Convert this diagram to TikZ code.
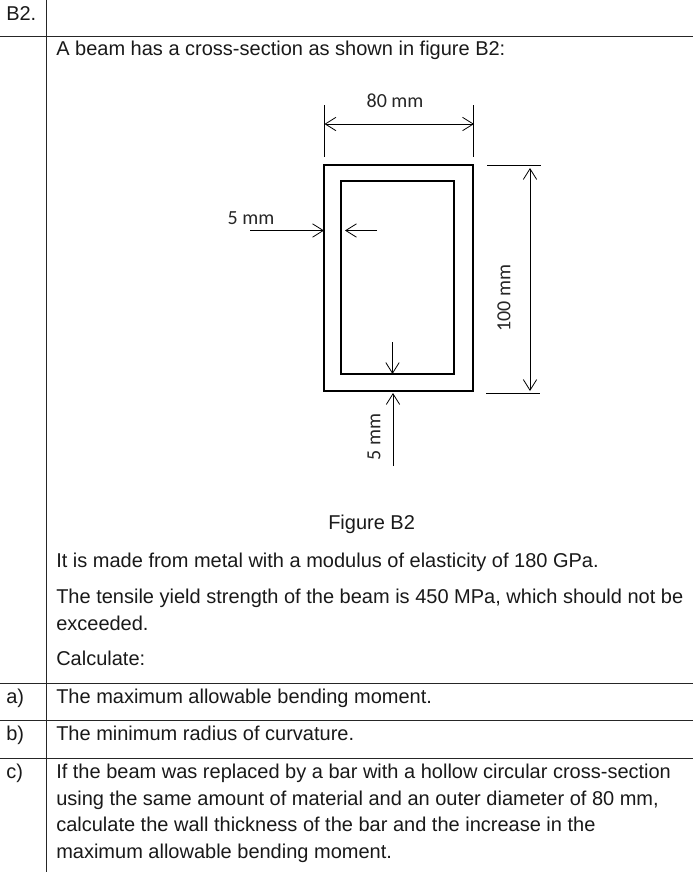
\documentclass[tikz,border=0pt]{standalone}
\usepackage{fontspec}
\setmainfont{Liberation Sans}
\newfontfamily\labelfont{Carlito}
\usetikzlibrary{arrows.meta}
\tikzset{
  rule/.style={line width=.6pt,color=black!85},
  body/.style={anchor=base west,inner sep=0pt,font=\fontsize{15}{18}\selectfont,color=black!90},
  dimlabel/.style={inner sep=0pt,font=\labelfont\fontsize{15}{18}\selectfont,color=black!85},
  dimline/.style={line width=.6pt},
  dimarrow/.style={line width=.6pt,-{Straight Barb[length=8pt,width=10pt,line width=.6pt]}},
  wall/.style={line width=1.3pt}
}
\begin{document}
\begin{tikzpicture}[x=.75pt,y=-.75pt]
   \useasboundingbox (0,0) rectangle (693,872);

   \draw[rule] (0,36.5) -- (693,36.5);
   \draw[rule] (0,683.5) -- (693,683.5);
   \draw[rule] (0,720.5) -- (693,720.5);
   \draw[rule] (0,758.5) -- (693,758.5);
   \draw[rule] (46.5,0) -- (46.5,872);

   \node[body] (qno) at (6,20) {B2.};
   \node[body] (intro) at (56,55) {A beam has a cross-section as shown in figure B2:};
   \node[body] (caption) at (328,529) {Figure B2};
   \node[body] (modulus) at (56,567) {It is made from metal with a modulus of elasticity of 180 GPa.};
   \node[body] (yield) at (56,603) {The tensile yield strength of the beam is 450 MPa, which should not be};
   \node[body] (yieldb) at (56,630) {exceeded.};
   \node[body] (calc) at (56,665.5) {Calculate:};
   \node[body] (parta) at (6,703) {a)};
   \node[body] (texta) at (56,703) {The maximum allowable bending moment.};
   \node[body] (partb) at (6,740) {b)};
   \node[body] (textb) at (56,740) {The minimum radius of curvature.};
   \node[body] (partc) at (6,778) {c)};
   \node[body] (textc) at (56,778) {If the beam was replaced by a bar with a hollow circular cross-section};
   \node[body] (textd) at (56,805) {using the same amount of material and an outer diameter of 80 mm,};
   \node[body] (texte) at (56,831) {calculate the wall thickness of the bar and the increase in the};
   \node[body] (textf) at (56,858) {maximum allowable bending moment.};

   % section
   \draw[wall] (324,165) rectangle (473,391);
   \draw[wall] (341,181) rectangle (454,374);

   % width
   \coordinate (wl) at (324.5,124);
   \coordinate (wr) at (474,124);
   \draw[dimline] (324.5,105) -- (324.5,157);
   \draw[dimline] (473.5,105) -- (473.5,157);
   \draw[dimarrow,{Straight Barb[length=8pt,width=10pt,line width=.6pt]}-{Straight Barb[length=8pt,width=10pt,line width=.6pt]}] (wl) -- (wr);
   \node[dimlabel] (width) at (395,101) {80 mm};

   % height
   \coordinate (ht) at (530,168);
   \coordinate (hb) at (530,391);
   \draw[dimline] (487,165.5) -- (541,165.5);
   \draw[dimline] (486,393.5) -- (540,393.5);
   \draw[dimarrow,{Straight Barb[length=8pt,width=10pt,line width=.6pt]}-{Straight Barb[length=8pt,width=10pt,line width=.6pt]}] (ht) -- (hb);
   \node[dimlabel,rotate=90] (height) at (504,298) {100 mm};

   % side wall
   \coordinate (sa) at (250,230.5);
   \coordinate (sb) at (324,230.5);
   \coordinate (sc) at (377,230.5);
   \coordinate (sd) at (345,230.5);
   \draw[dimarrow] (sa) -- (sb);
   \draw[dimarrow] (sc) -- (sd);
   \node[dimlabel] (side) at (251,218) {5 mm};

   % bottom wall
   \coordinate (ba) at (392.5,342);
   \coordinate (bb) at (392.5,374);
   \coordinate (bc) at (393,466);
   \coordinate (bd) at (393,393);
   \draw[dimarrow] (ba) -- (bb);
   \draw[dimarrow] (bc) -- (bd);
   \node[dimlabel,rotate=90] (bottom) at (374,437) {5 mm};
 \end{tikzpicture}
\end{document}
